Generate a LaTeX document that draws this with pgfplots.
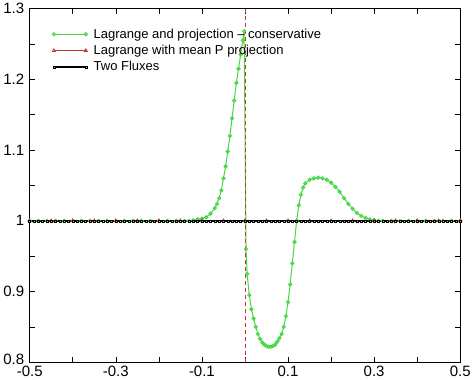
\documentclass[border=0pt]{standalone}
\usepackage{fontspec}
\setmainfont{Liberation Sans}
\usepackage{pgfplots}
\pgfplotsset{compat=1.18}
\definecolor{lgreen}{RGB}{70,215,70}
\definecolor{dred}{RGB}{195,55,55}
\begin{document}
\begin{tikzpicture}
\begin{axis}[
 scale only axis, width=431pt, height=354pt,
 xmin=-0.5,xmax=0.5,ymin=0.8,ymax=1.3,
 xtick={-0.5,-0.3,-0.1,0.1,0.3,0.5},
 minor xtick={-0.4,-0.2,0,0.2,0.4},
 ytick={0.9,1,1.1,1.2,1.3},
 minor ytick={0.85,0.95,1.05,1.15,1.25},
 extra y ticks={0.8},
 extra y tick style={yticklabel style={yshift=3pt}},
 tick align=inside, major tick length=5pt, minor tick length=5pt,
 tick style={black, line width=0.6pt},
 axis line style={line width=0.8pt},
 ticklabel style={font=\fontsize{15}{15}\selectfont},
 /pgf/number format/assume math mode=true,
 xticklabel style={/pgf/number format/fixed, /pgf/number format/precision=1, yshift=0pt},
 yticklabel style={/pgf/number format/fixed, xshift=-2pt},
 legend style={draw=none, fill=none, at={(rel axis cs:0.045,0.955)}, anchor=north west,
   font=\fontsize{13}{13}\selectfont, row sep=1.5pt},
 legend cell align=left,
 legend image code/.code={\draw[mark repeat=1] plot coordinates {(0pt,0pt)(32pt,0pt)}; \path (37pt,0pt);},
]
\addplot[lgreen, line width=1pt, mark=o, mark size=1.6pt, mark options={solid}] coordinates {
(-0.50,1)(-0.48,1)(-0.46,1)(-0.44,1)(-0.42,1)(-0.40,1)(-0.38,1)(-0.36,1)(-0.34,1)(-0.32,1)
(-0.30,1)(-0.28,1)(-0.26,1)(-0.24,1)(-0.22,1)(-0.20,1)(-0.18,1)(-0.16,1)(-0.14,1)(-0.13,1)
(-0.12,1.001)(-0.11,1.002)(-0.10,1.003)(-0.09,1.005)(-0.08,1.01)(-0.07,1.018)(-0.065,1.024)(-0.06,1.032)
(-0.055,1.043)(-0.05,1.06)(-0.045,1.077)(-0.04,1.098)(-0.035,1.12)(-0.03,1.145)(-0.025,1.17)
(-0.02,1.195)(-0.015,1.215)(-0.01,1.235)(-0.005,1.255)(-0.002,1.268)
(0.0025,0.96)(0.005,0.925)(0.01,0.895)(0.015,0.875)(0.02,0.862)(0.025,0.85)(0.03,0.84)
(0.035,0.833)(0.04,0.828)(0.045,0.825)(0.05,0.823)(0.055,0.822)(0.06,0.822)(0.065,0.823)
(0.07,0.825)(0.075,0.829)(0.08,0.834)(0.085,0.84)(0.09,0.85)(0.095,0.865)(0.1,0.885)
(0.105,0.91)(0.11,0.94)(0.115,0.97)(0.12,1.0)(0.125,1.022)(0.13,1.037)(0.135,1.047)
(0.14,1.053)(0.15,1.058)(0.16,1.06)(0.17,1.061)(0.18,1.06)(0.19,1.058)(0.2,1.054)
(0.21,1.048)(0.22,1.041)(0.23,1.032)(0.24,1.024)(0.25,1.017)(0.26,1.011)(0.27,1.007)
(0.28,1.004)(0.29,1.002)(0.30,1.001)(0.31,1)(0.32,1)(0.34,1)(0.36,1)(0.38,1)(0.40,1)
(0.42,1)(0.44,1)(0.46,1)(0.48,1)(0.50,1)};
\addlegendentry{Lagrange and projection -- conservative}
\addplot[dred, line width=0.8pt, mark=triangle, mark size=1.8pt, mark options={solid}] coordinates {
(-0.50,1)(-0.45,1)(-0.40,1)(-0.35,1)(-0.30,1)(-0.25,1)(-0.20,1)(-0.15,1)(-0.10,1)(-0.05,1)
(0.00,1)(0.05,1)(0.10,1)(0.15,1)(0.20,1)(0.25,1)(0.30,1)(0.35,1)(0.40,1)(0.45,1)(0.50,1)};
\addlegendentry{Lagrange with mean P projection}
\addplot[black, line width=1.8pt, mark=square*, mark size=1pt, mark options={solid, fill=gray!60, draw=black, line width=0.4pt}] coordinates {
(-0.50,1)(-0.49,1)(-0.48,1)(-0.47,1)(-0.46,1)(-0.45,1)(-0.44,1)(-0.43,1)(-0.42,1)(-0.41,1)
(-0.40,1)(-0.39,1)(-0.38,1)(-0.37,1)(-0.36,1)(-0.35,1)(-0.34,1)(-0.33,1)(-0.32,1)(-0.31,1)
(-0.30,1)(-0.29,1)(-0.28,1)(-0.27,1)(-0.26,1)(-0.25,1)(-0.24,1)(-0.23,1)(-0.22,1)(-0.21,1)
(-0.20,1)(-0.19,1)(-0.18,1)(-0.17,1)(-0.16,1)(-0.15,1)(-0.14,1)(-0.13,1)(-0.12,1)(-0.11,1)
(-0.10,1)(-0.09,1)(-0.08,1)(-0.07,1)(-0.06,1)(-0.05,1)(-0.04,1)(-0.03,1)(-0.02,1)(-0.01,1)
(0.00,1)(0.01,1)(0.02,1)(0.03,1)(0.04,1)(0.05,1)(0.06,1)(0.07,1)(0.08,1)(0.09,1)
(0.10,1)(0.11,1)(0.12,1)(0.13,1)(0.14,1)(0.15,1)(0.16,1)(0.17,1)(0.18,1)(0.19,1)
(0.20,1)(0.21,1)(0.22,1)(0.23,1)(0.24,1)(0.25,1)(0.26,1)(0.27,1)(0.28,1)(0.29,1)
(0.30,1)(0.31,1)(0.32,1)(0.33,1)(0.34,1)(0.35,1)(0.36,1)(0.37,1)(0.38,1)(0.39,1)
(0.40,1)(0.41,1)(0.42,1)(0.43,1)(0.44,1)(0.45,1)(0.46,1)(0.47,1)(0.48,1)(0.49,1)(0.50,1)};
\addlegendentry{Two Fluxes}
\addplot[dred, line width=0.7pt, dash pattern=on 4pt off 3pt, forget plot] coordinates {(0,0.8)(0,1.3)};
\end{axis}
\end{tikzpicture}
\end{document}
